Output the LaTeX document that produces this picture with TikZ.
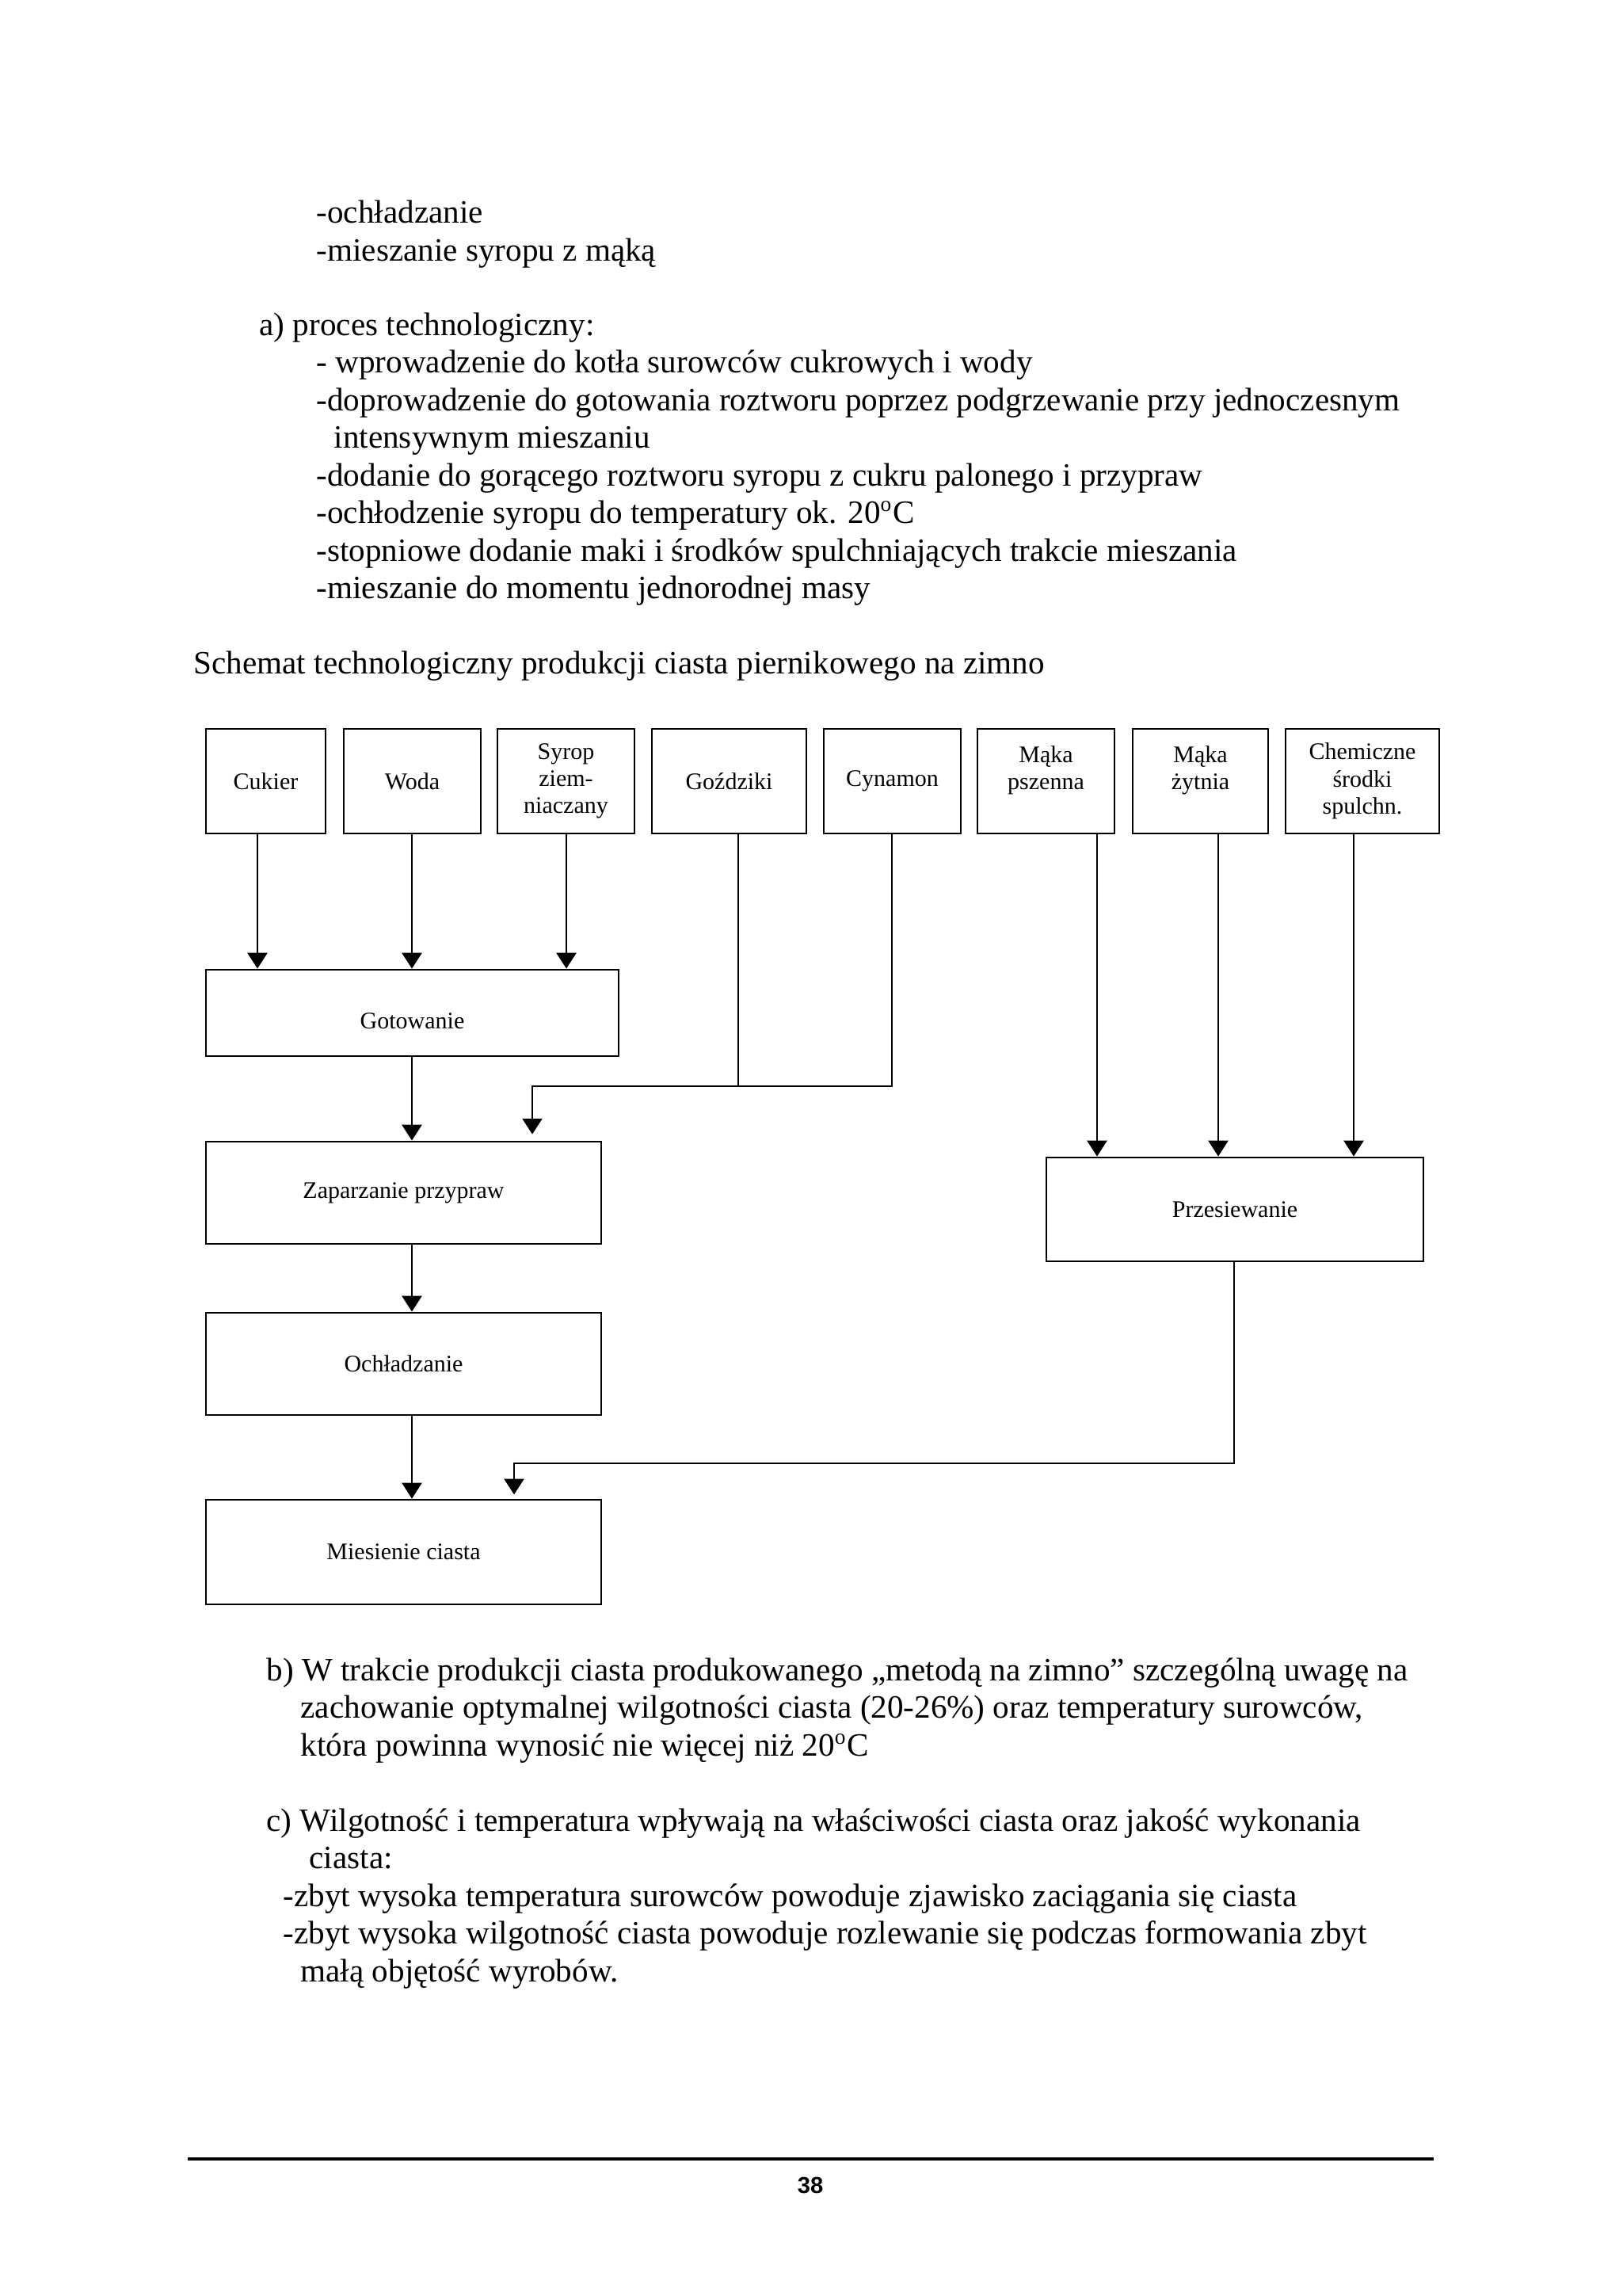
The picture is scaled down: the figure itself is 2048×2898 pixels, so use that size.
\documentclass[tikz,border=0pt]{standalone}
\usepackage{fontspec}
\setmainfont{Liberation Serif}
\newfontfamily\footsans{Liberation Sans}
\usetikzlibrary{arrows.meta}
\newcommand\pxu{0.1025mm}
\begin{document}
\begin{tikzpicture}[x=0.1025mm,y=-0.1025mm,
  box/.style={draw, line width=0.85pt, inner sep=0pt, align=center,
    font=\fontsize{8.75}{10}\selectfont},
  conn/.style={line width=0.72pt},
  arr/.style={conn, -{Triangle[width=7.3pt,length=5.8pt]}},
  body/.style={anchor=base west, inner sep=0pt, font=\fontsize{12}{14}\selectfont}]
\fill[white] (0,0) rectangle (2048,2898);

% text above
\node[body] (t1) at (399,281) {-ochładzanie};
\node[body] (t2) at (399,329) {-mieszanie syropu z mąką};
\node[body] (t3) at (327,423) {a) proces technologiczny:};
\node[body] (t4) at (399,470.5) {- wprowadzenie do kotła surowców cukrowych i wody};
\node[body] (t5) at (399,518) {-doprowadzenie do gotowania roztworu poprzez podgrzewanie przy jednoczesnym};
\node[body] (t6) at (421,565.5) {intensywnym mieszaniu};
\node[body] (t7) at (399,613) {-dodanie do gorącego roztworu syropu z cukru palonego i przypraw};
\node[body] (t8) at (399,660.5) {-ochłodzenie syropu do temperatury ok. 20\textsuperscript{o}C};
\node[body] (t9) at (399,708) {-stopniowe dodanie maki i środków spulchniających trakcie mieszania};
\node[body] (t10) at (399,755.5) {-mieszanie do momentu jednorodnej masy};
\node[body] (t11) at (244,850) {Schemat technologiczny produkcji ciasta piernikowego na zimno};

% input boxes
\node[box, minimum width=151*\pxu, minimum height=132*\pxu] (cukier) at (335.5,986) {Cukier};
\node[box, minimum width=173*\pxu, minimum height=132*\pxu] (woda) at (520.5,986) {Woda};
\node[box, minimum width=173*\pxu, minimum height=132*\pxu] (syrop) at (714.5,986) {Syrop\\ziem-\\niaczany};
\node[box, minimum width=195*\pxu, minimum height=132*\pxu] (gozdziki) at (920.5,986) {Goździki};
\node[box, minimum width=173*\pxu, minimum height=132*\pxu] (cynamon) at (1126.5,986) {Cynamon};
\node[box, minimum width=173*\pxu, minimum height=132*\pxu] (makap) at (1320.5,986) {Mąka\\pszenna\\\mbox{}};
\node[box, minimum width=171*\pxu, minimum height=132*\pxu] (makaz) at (1515.5,986) {Mąka\\żytnia\\\mbox{}};
\node[box, minimum width=194*\pxu, minimum height=132*\pxu] (chem) at (1720,986) {Chemiczne\\środki\\spulchn.};

% process boxes
\node[box, minimum width=521*\pxu, minimum height=109*\pxu] (gotowanie) at (520.5,1278.5) {\raisebox{-2.9pt}[\height][\depth]{Gotowanie}};
\node[box, minimum width=499*\pxu, minimum height=129*\pxu] (zaparzanie) at (509.5,1505.5) {Zaparzanie przypraw};
\node[box, minimum width=499*\pxu, minimum height=129*\pxu] (ochl) at (509.5,1721.5) {Ochładzanie};
\node[box, minimum width=499*\pxu, minimum height=132*\pxu] (miesienie) at (509.5,1959) {Miesienie ciasta};
\node[box, minimum width=476*\pxu, minimum height=131*\pxu] (przes) at (1559,1526.5) {Przesiewanie};

% connectors to Gotowanie
\draw[arr] (cukier.south -| 325,0) -- (gotowanie.north -| 325,0);
\draw[arr] (woda.south -| 520,0) -- (gotowanie.north -| 520,0);
\draw[arr] (syrop.south -| 715,0) -- (gotowanie.north -| 715,0);

% spices
\coordinate (spj) at (932,1371);
\coordinate (spc) at (1126,1371);
\coordinate (spl) at (672,1371);
\draw[conn] (gozdziki.south -| spj) -- (spj);
\draw[conn] (cynamon.south -| spc) -- (spc) -- (spj);
\draw[arr] (spj) -- (spl) -- ([yshift=2.3pt]zaparzanie.north -| spl);

% flours
\draw[arr] (makap.south -| 1385,0) -- (przes.north -| 1385,0);
\draw[arr] (makaz.south -| 1538,0) -- (przes.north -| 1538,0);
\draw[arr] (chem.south -| 1709,0) -- (przes.north -| 1709,0);

% main line
\draw[arr] (gotowanie.south -| 520,0) -- (zaparzanie.north -| 520,0);
\draw[arr] (zaparzanie.south -| 520,0) -- (ochl.north -| 520,0);
\draw[arr] (ochl.south -| 520,0) -- (miesienie.north -| 520,0);

\coordinate (pj) at (649,1847);
\draw[arr] (przes.south -| 1558,0) |- (pj) -- ([yshift=1.5pt]miesienie.north -| pj);

% text below
\node[body] (b1) at (336,2121) {b) W trakcie produkcji ciasta produkowanego „metodą na zimno” szczególną uwagę na};
\node[body] (b2) at (379,2168.5) {zachowanie optymalnej wilgotności ciasta (20-26\%) oraz temperatury surowców,};
\node[body] (b3) at (379,2216) {która powinna wynosić nie więcej niż 20\textsuperscript{o}C};
\node[body] (c1) at (336,2311) {c) Wilgotność i temperatura wpływają na właściwości ciasta oraz jakość wykonania};
\node[body] (c2) at (390,2358.5) {ciasta:};
\node[body] (c3) at (357,2406) {-zbyt wysoka temperatura surowców powoduje zjawisko zaciągania się ciasta};
\node[body] (c4) at (357,2453.5) {-zbyt wysoka wilgotność ciasta powoduje rozlewanie się podczas formowania zbyt};
\node[body] (c5) at (379,2501) {małą objętość wyrobów.};

% footer
\draw[line width=0.9pt] (237,2725) -- (1810,2725);
\node[anchor=base, inner sep=0pt, font=\footsans\bfseries\fontsize{8.5}{10}\selectfont] (pg) at (1023,2768) {38};
\end{tikzpicture}
\end{document}
